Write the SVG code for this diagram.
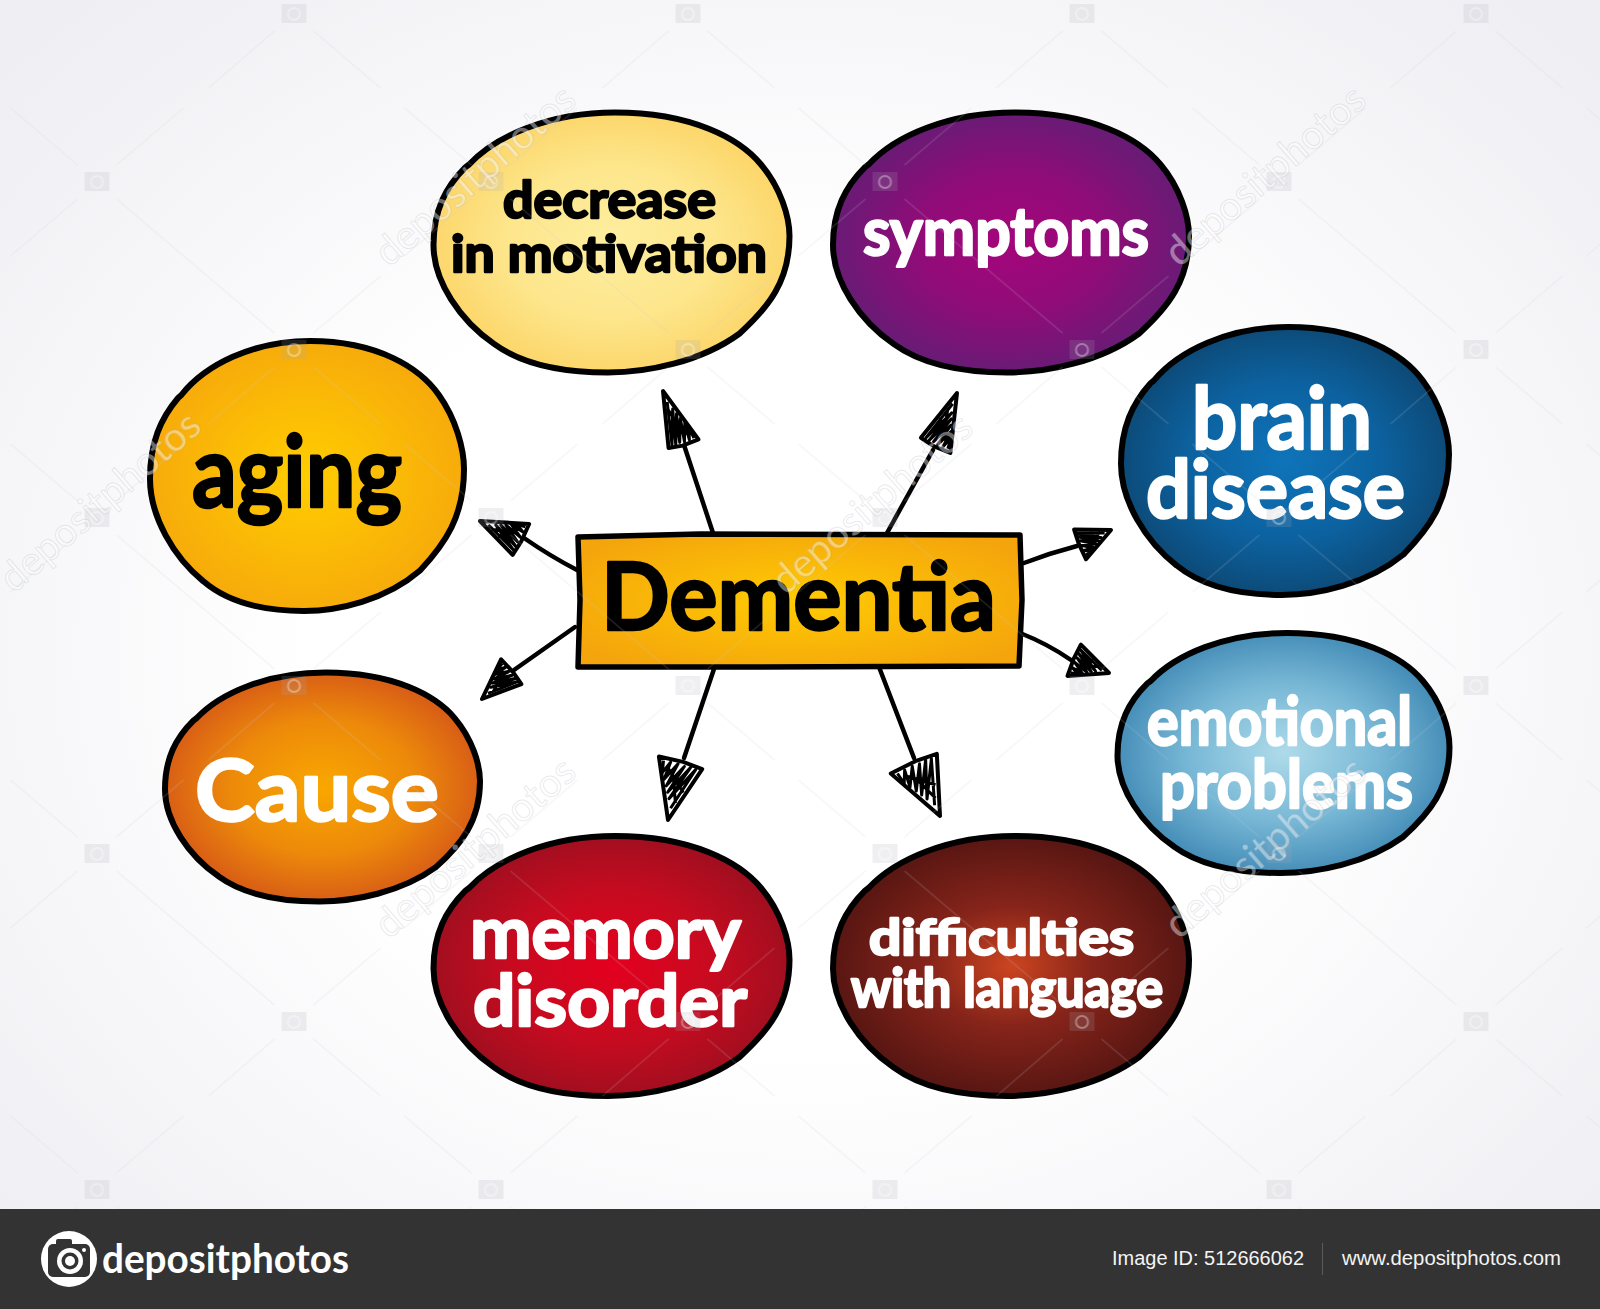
<svg xmlns="http://www.w3.org/2000/svg" width="1600" height="1309" viewBox="0 0 1600 1309">
<style>
.blob{stroke:#000;stroke-width:6;stroke-linejoin:round;vector-effect:non-scaling-stroke}
.t{font-family:"Lato","Open Sans",sans-serif;font-weight:700;stroke-width:2.5;stroke-linejoin:round;paint-order:stroke}
.k{fill:#000;stroke:#000}
.w{fill:#fff;stroke:#fff}
.ln{fill:none;stroke:#000;stroke-width:4.5;stroke-linecap:round}
.hd{fill:#fff;stroke:#000;stroke-width:4;stroke-linejoin:round;vector-effect:non-scaling-stroke}
.ht{fill:none;stroke:#000;stroke-width:3;stroke-linejoin:round;vector-effect:non-scaling-stroke}
.wm{font-family:"Lato","Open Sans",sans-serif;font-size:40px;font-weight:400;fill:#fff;fill-opacity:.42;stroke:#a9a9b4;stroke-opacity:.25;stroke-width:1}
.ft{font-family:"Liberation Sans",Arial,sans-serif;font-size:20px;fill:#f4f4f4}
</style>
<defs>
<radialGradient id="bg" cx="50%" cy="50%" r="68%"><stop offset="0.45" stop-color="#fff"/><stop offset="1" stop-color="#eeeef3"/></radialGradient>
<radialGradient id="g1" r="58%"><stop offset="0" stop-color="#fdee9f"/><stop offset="0.5" stop-color="#fde68c"/><stop offset="1" stop-color="#fcd15f"/></radialGradient>
<radialGradient id="g2" r="58%"><stop offset="0" stop-color="#a4057b"/><stop offset="0.45" stop-color="#900c78"/><stop offset="1" stop-color="#5c2075"/></radialGradient>
<radialGradient id="g3" r="58%"><stop offset="0" stop-color="#0f74ba"/><stop offset="0.5" stop-color="#0c62a0"/><stop offset="1" stop-color="#0d426a"/></radialGradient>
<radialGradient id="g4" r="58%"><stop offset="0" stop-color="#aedbea"/><stop offset="0.5" stop-color="#77b7d5"/><stop offset="1" stop-color="#347fae"/></radialGradient>
<radialGradient id="g5" r="58%"><stop offset="0" stop-color="#e4001e"/><stop offset="0.5" stop-color="#c60b20"/><stop offset="1" stop-color="#94101f"/></radialGradient>
<radialGradient id="g6" r="58%"><stop offset="0" stop-color="#cc4520"/><stop offset="0.4" stop-color="#86241a"/><stop offset="1" stop-color="#4b1210"/></radialGradient>
<radialGradient id="g7" r="58%"><stop offset="0" stop-color="#f9a700"/><stop offset="0.5" stop-color="#ed8a0a"/><stop offset="1" stop-color="#d14e1a"/></radialGradient>
<radialGradient id="g8" r="58%"><stop offset="0" stop-color="#ffcd00"/><stop offset="1" stop-color="#f6a60c"/></radialGradient>
<radialGradient id="g9" r="60%"><stop offset="0" stop-color="#ffcb02"/><stop offset="1" stop-color="#f4a50c"/></radialGradient>
<path id="blob" class="blob" d="M-1,.02C-1,-.25 -.93,-.43 -.82,-.58L-.8,-.6C-.65,-.82 -.35,-1 .02,-1C.45,-1 .72,-.8 .84,-.6C.95,-.42 1,-.2 1,-.05C1,.3 .88,.5 .72,.7C.5,.92 .2,1 -.02,1C-.3,1 -.52,.92 -.66,.78C-.85,.6 -1,.3 -1,.02Z"/>
<g id="head">
<path class="hd" d="M0,0L-.95,-.5L-1,-.05L-1,.5Z"/>
<path class="ht" d="M-.2,0L-.92,-.36L-.35,.08L-.95,-.25L-.45,.14L-.93,-.1L-.55,.2L-.95,.05L-.65,.28L-.95,.22L-.75,.35L-.95,.38M-.3,-.08L-.75,.1M-.5,-.2L-.85,.25"/>
</g>
<pattern id="wmp" patternUnits="userSpaceOnUse" x="-1.5" y="98" width="394" height="336">
<path d="M118,67L185,10M210,326L276,269M315,235L382,178M12,158L79,101M118,101L276,235M315,269L382,326M12,10L79,67" fill="none" stroke="#c9c9d3" stroke-opacity=".18" stroke-width="1.5"/>
<g><rect x="86" y="74" width="25" height="19" rx="1" fill="#a8a8b2" fill-opacity=".18"/><circle cx="98.5" cy="84" r="6" fill="none" stroke="#fff" stroke-opacity=".35" stroke-width="2"/></g>
<g><rect x="283" y="242" width="25" height="19" rx="1" fill="#a8a8b2" fill-opacity=".18"/><circle cx="295.5" cy="252" r="6" fill="none" stroke="#fff" stroke-opacity=".35" stroke-width="2"/></g>
</pattern>
</defs>

<rect id="background" width="1600" height="1309" fill="url(#bg)"/>

<g id="connectors">
<path class="ln" d="M713,533L684,445"/>
<path class="ln" d="M887,533L933,450"/>
<path class="ln" d="M577,570Q550,556 524,538"/>
<path class="ln" d="M575,627L514,670"/>
<path class="ln" d="M716,663L684,758"/>
<path class="ln" d="M879,667L914,758"/>
<path class="ln" d="M1024,563Q1050,553 1077,546"/>
<path class="ln" d="M1020,633Q1048,644 1071,660"/>
<use href="#head" transform="translate(663,391) rotate(-111.3) scale(58,31)"/>
<use href="#head" transform="translate(957,393) rotate(-67.8) scale(58,33)"/>
<use href="#head" transform="translate(480,521) rotate(-155.7) scale(46,35)"/>
<use href="#head" transform="translate(482,699) rotate(137) scale(41,32)"/>
<use href="#head" transform="translate(668,820) rotate(102.4) scale(60,45)"/>
<use href="#head" transform="translate(940,816) rotate(63.4) scale(60,50)"/>
<use href="#head" transform="translate(1111,530) rotate(-25) scale(35,32)"/>
<use href="#head" transform="translate(1109,673) rotate(20) scale(38,34)"/>
</g>

<g id="node-center">
<path d="M578,537L700,534L1020,535L1022,600L1019,666L760,667L578,667L580,600Z" fill="url(#g9)" stroke="#000" stroke-width="5.5" stroke-linejoin="round"/>
<text class="t k" x="601" y="630" font-size="94" textLength="395" lengthAdjust="spacingAndGlyphs">Dementia</text>
</g>
<g id="node-decrease">
<use href="#blob" transform="translate(611.5,242.5) scale(178,130)" fill="url(#g1)"/>
<text class="t k" x="503" y="218" font-size="52" textLength="213" lengthAdjust="spacingAndGlyphs">decrease</text>
<text class="t k" x="451" y="272" font-size="52" textLength="316" lengthAdjust="spacingAndGlyphs">in motivation</text>
</g>
<g id="node-symptoms">
<use href="#blob" transform="translate(1011,242.5) scale(178,130)" fill="url(#g2)"/>
<text class="t w" x="863" y="255" font-size="66" textLength="286" lengthAdjust="spacingAndGlyphs">symptoms</text>
</g>
<g id="node-brain">
<use href="#blob" transform="translate(1285,461) scale(164,134)" fill="url(#g3)"/>
<text class="t w" x="1192" y="449" font-size="86" textLength="180" lengthAdjust="spacingAndGlyphs">brain</text>
<text class="t w" x="1146" y="518" font-size="80" textLength="259" lengthAdjust="spacingAndGlyphs">disease</text>
</g>
<g id="node-emotional">
<use href="#blob" transform="translate(1283.5,753) scale(166,120)" fill="url(#g4)"/>
<text class="t w" x="1147" y="745" font-size="66" textLength="265" lengthAdjust="spacingAndGlyphs">emotional</text>
<text class="t w" x="1160" y="808" font-size="66" textLength="253" lengthAdjust="spacingAndGlyphs">problems</text>
</g>
<g id="node-memory">
<use href="#blob" transform="translate(611.5,966) scale(178,130)" fill="url(#g5)"/>
<text class="t w" x="470" y="958" font-size="72" textLength="271" lengthAdjust="spacingAndGlyphs">memory</text>
<text class="t w" x="473" y="1026" font-size="70" textLength="274" lengthAdjust="spacingAndGlyphs">disorder</text>
</g>
<g id="node-difficulties">
<use href="#blob" transform="translate(1011,966) scale(178,130)" fill="url(#g6)"/>
<text class="t w" x="869" y="955" font-size="50" textLength="265" lengthAdjust="spacingAndGlyphs">difficulties</text>
<text class="t w" x="851" y="1007" font-size="54" textLength="312" lengthAdjust="spacingAndGlyphs">with language</text>
</g>
<g id="node-cause">
<use href="#blob" transform="translate(322.5,787) scale(157.5,114.5)" fill="url(#g7)"/>
<text class="t w" x="195" y="821" font-size="86" textLength="244" lengthAdjust="spacingAndGlyphs">Cause</text>
</g>
<g id="node-aging">
<use href="#blob" transform="translate(307,476) scale(157,135)" fill="url(#g8)"/>
<text class="t k" x="192" y="507" font-size="100" textLength="210" lengthAdjust="spacingAndGlyphs">aging</text>
</g>

<g id="watermark">
<rect width="1600" height="1209" fill="url(#wmp)"/>
<text class="wm" transform="translate(389,268) rotate(-41)">depositphotos</text>
<text class="wm" transform="translate(1179,268) rotate(-41)">depositphotos</text>
<text class="wm" transform="translate(786,596) rotate(-41)">depositphotos</text>
<text class="wm" transform="translate(14,594) rotate(-41)">depositphotos</text>
<text class="wm" transform="translate(389,940) rotate(-41)">depositphotos</text>
<text class="wm" transform="translate(1179,940) rotate(-41)">depositphotos</text>
</g>

<g id="footer">
<rect y="1209" width="1600" height="100" fill="#333"/>
<circle cx="69" cy="1259" r="28" fill="#fff"/>
<rect x="48" y="1244" width="42" height="33" rx="5" fill="#333"/>
<rect x="56" y="1239" width="16" height="8" rx="2" fill="#333"/>
<circle cx="70" cy="1261" r="13" fill="#fff"/>
<circle cx="70" cy="1261" r="8.5" fill="#333"/>
<circle cx="70" cy="1261" r="5" fill="#fff"/>
<circle cx="84" cy="1250" r="2" fill="#fff"/>
<text x="102" y="1273" font-family="Lato,'Open Sans',sans-serif" font-weight="700" font-size="41" fill="#fff" textLength="247" lengthAdjust="spacingAndGlyphs">depositphotos</text>
<text class="ft" x="1112" y="1265" textLength="192" lengthAdjust="spacingAndGlyphs">Image ID: 512666062</text>
<rect x="1322" y="1243" width="1" height="32" fill="#5c5c5c"/>
<text class="ft" x="1342" y="1265" textLength="219" lengthAdjust="spacingAndGlyphs">www.depositphotos.com</text>
</g>
</svg>
